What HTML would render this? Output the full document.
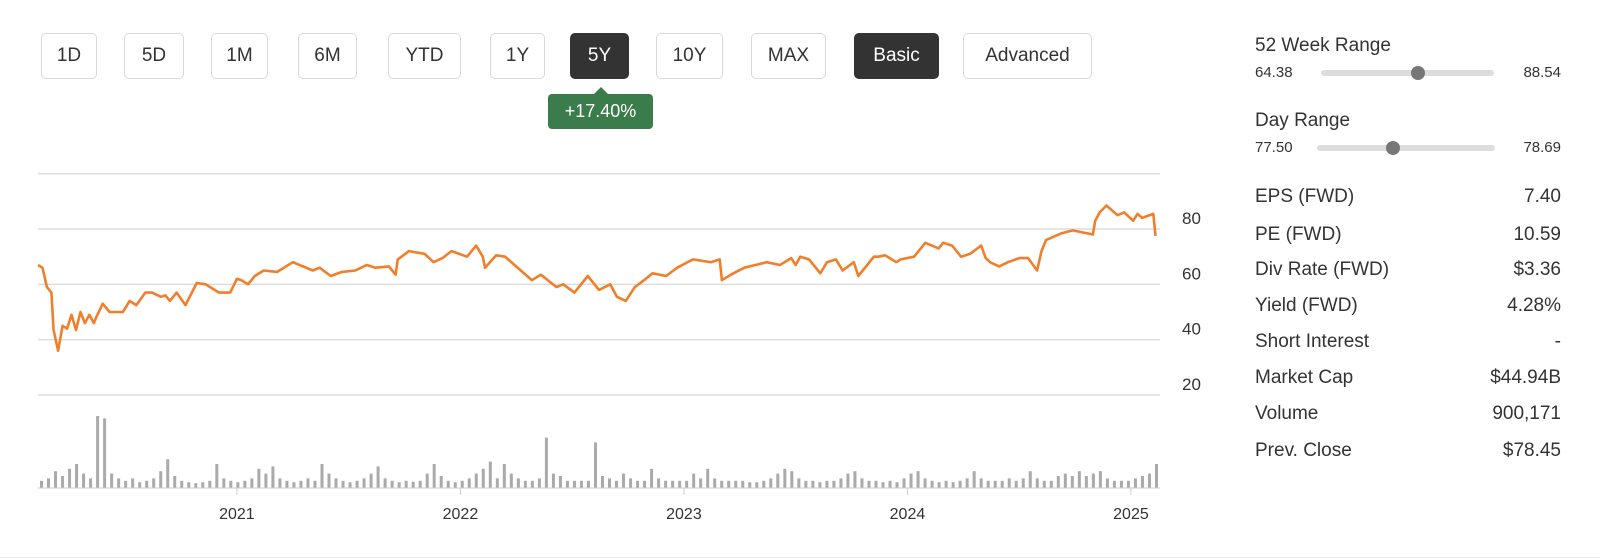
<!DOCTYPE html>
<html><head><meta charset="utf-8">
<style>
body{margin:0;width:1600px;height:559px;overflow:hidden;background:#fff;font-family:"Liberation Sans",Arial,sans-serif;color:#333;position:relative}
.btn{position:absolute;top:33px;height:46px;border:1px solid #d8d8d8;border-radius:5px;box-sizing:border-box;font-size:19px;line-height:44px;text-align:center;color:#333;background:#fff}
.btn.on{background:#333;color:#fff;border-color:#333}
.badge{position:absolute;left:548px;top:94px;width:105px;height:35px;background:#3a7d4a;color:#fff;border-radius:4px;font-size:18px;line-height:35px;text-align:center}
.badge:before{content:"";position:absolute;left:46px;top:-7px;border-left:7px solid transparent;border-right:7px solid transparent;border-bottom:7px solid #3a7d4a}
.t{position:absolute;white-space:nowrap}
.lbl{font-size:19px}
.sm{font-size:15px}
.bar{position:absolute;height:6px;background:#ddd;border-radius:3px}
.dot{position:absolute;width:14px;height:14px;border-radius:50%;background:#777}
.row{position:absolute;left:1255px;width:306px;font-size:19px;display:flex;justify-content:space-between}
</style></head><body>
<div class="btn" style="left:41px;width:56px">1D</div>
<div class="btn" style="left:124px;width:60px">5D</div>
<div class="btn" style="left:211px;width:57px">1M</div>
<div class="btn" style="left:298px;width:59px">6M</div>
<div class="btn" style="left:388px;width:73px">YTD</div>
<div class="btn" style="left:490px;width:55px">1Y</div>
<div class="btn on" style="left:570px;width:59px">5Y</div>
<div class="btn" style="left:656px;width:67px">10Y</div>
<div class="btn" style="left:751px;width:75px">MAX</div>
<div class="btn on" style="left:854px;width:85px">Basic</div>
<div class="btn" style="left:963px;width:129px">Advanced</div>
<div class="badge">+17.40%</div>

<svg id="chart" width="1240" height="559" style="position:absolute;left:0;top:0"></svg>

<div class="t lbl" style="left:1255px;top:35px">52 Week Range</div>
<div class="t sm" style="left:1255px;top:64px">64.38</div>
<div class="bar" style="left:1321px;top:70px;width:173px"></div>
<div class="dot" style="left:1411px;top:66px"></div>
<div class="t sm" style="right:39px;top:64px">88.54</div>
<div class="t lbl" style="left:1255px;top:110px">Day Range</div>
<div class="t sm" style="left:1255px;top:139px">77.50</div>
<div class="bar" style="left:1317px;top:145px;width:178px"></div>
<div class="dot" style="left:1386px;top:141px"></div>
<div class="t sm" style="right:39px;top:139px">78.69</div>

<div class="row" style="top:186px"><span>EPS (FWD)</span><span>7.40</span></div>
<div class="row" style="top:224px"><span>PE (FWD)</span><span>10.59</span></div>
<div class="row" style="top:259px"><span>Div Rate (FWD)</span><span>$3.36</span></div>
<div class="row" style="top:295px"><span>Yield (FWD)</span><span>4.28%</span></div>
<div class="row" style="top:331px"><span>Short Interest</span><span>-</span></div>
<div class="row" style="top:367px"><span>Market Cap</span><span>$44.94B</span></div>
<div class="row" style="top:403px"><span>Volume</span><span>900,171</span></div>
<div class="row" style="top:440px"><span>Prev. Close</span><span>$78.45</span></div>
<div style="position:absolute;left:0;top:557px;width:1600px;height:1px;background:#eee"></div>

<script>
const priceDates=[2020.11,2020.13,2020.15,2020.17,2020.18,2020.20,2020.22,2020.24,2020.26,2020.28,2020.30,2020.32,2020.34,2020.36,2020.37,2020.40,2020.43,2020.45,2020.49,2020.52,2020.55,2020.59,2020.62,2020.66,2020.68,2020.70,2020.73,2020.77,2020.82,2020.86,2020.90,2020.92,2020.97,2021.00,2021.02,2021.05,2021.08,2021.12,2021.18,2021.25,2021.34,2021.37,2021.42,2021.47,2021.53,2021.58,2021.62,2021.68,2021.71,2021.72,2021.77,2021.84,2021.88,2021.92,2021.96,2022.03,2022.07,2022.10,2022.11,2022.16,2022.20,2022.27,2022.32,2022.36,2022.43,2022.46,2022.51,2022.54,2022.57,2022.62,2022.67,2022.70,2022.74,2022.78,2022.83,2022.86,2022.92,2022.97,2023.04,2023.12,2023.16,2023.17,2023.21,2023.27,2023.32,2023.37,2023.43,2023.48,2023.50,2023.52,2023.56,2023.61,2023.64,2023.68,2023.71,2023.76,2023.78,2023.81,2023.85,2023.87,2023.90,2023.95,2023.97,2024.03,2024.08,2024.14,2024.16,2024.20,2024.24,2024.28,2024.33,2024.35,2024.37,2024.41,2024.45,2024.50,2024.54,2024.58,2024.60,2024.62,2024.69,2024.74,2024.83,2024.84,2024.86,2024.89,2024.94,2024.97,2025.01,2025.03,2025.05,2025.10,2025.11,2025.12];
const priceValues=[67,66,59,57,43.5,36,45,44,49,43.5,50,46,49,46,48,53,50,50,50,54,52.5,57,57,55.5,56,54,57,52.5,60.5,60,58,57,57,62,61.5,60,63,65,64.5,68,65,66,63,64.5,65,67,66,66.5,63.5,69,72,71,68,69.5,72,70,74,70,66,70.5,70,65,61.5,63.5,59,60,57,60,63,58,60,55.5,54,59,62,64,63,66,69,68,69,61.5,63.5,66,67,68,67,69.5,67,70,69,64,68,69,65,68,63,66,70,70,70.5,68,69,70,75,73,75,74,70,71,74,69.5,68,66.5,68,69.5,69.5,65,72,76,78.5,79.5,78,83,86,88.5,85,86,83,85.5,84,85.5,77.5];
const volumeValues=[1.5,2,3.5,2.5,4,5,3,2,15,14.5,3,2,1.5,2,1.2,1.5,2,3.5,6,2.5,1.5,1.2,1,1.2,1.5,5,2,1.5,1.2,1.5,2,4,3,4.5,2,1.5,1.2,1.5,2,1.5,5,3,2,1.5,1.2,1.5,2,3,4.5,2,1.5,1.2,1.5,1.3,1.5,3,5,2.5,1.5,1.2,1.5,2,3,4,5.5,2,5,3,2,1.5,1.5,2,10.5,3,2.5,1.5,1.5,1.5,1.5,9.5,2.5,2,1.5,3,2,1.5,1.5,4,2,1.5,1.5,1.5,1.5,3,2,4,2,1.5,1.5,1.5,1.5,1.2,1.2,1.5,2,3,4,3.5,2,1.5,1.5,1.2,1.5,1.5,2,3,3.5,2,1.5,1.5,1.2,1.5,1.2,2,3,3.5,2,1.5,1.2,1.5,1.2,1.5,2,3.5,2,1.5,1.5,1.5,2,1.5,2,3.5,2,1.5,1.5,2.5,3,2.5,3.5,2.5,3,3.5,2,1.5,1.5,1.5,2,2.5,3,5];
const yTicks=[80,60,40,20];
const yearTicks=[2021,2022,2023,2024,2025];

const svg=document.getElementById('chart');
const NS='http://www.w3.org/2000/svg';
const X0=38,X1=1160,T0=2020.11,T1=2025.13;
const xs=t=>X0+(t-T0)/(T1-T0)*(X1-X0);
const ys=v=>229+(80-v)*2.767;
const VB=488,VK=4.8;
const vy=v=>VB-v*VK;
function mk(tag,attrs){const e=document.createElementNS(NS,tag);for(const k in attrs)e.setAttribute(k,attrs[k]);svg.appendChild(e);return e;}

let g=mk('line',{x1:X0,x2:X1,y1:ys(100),y2:ys(100),stroke:'#ddd','stroke-width':1.5});


yTicks.forEach(v=>{
  const l=mk('line',{x1:X0,x2:X1,y1:ys(v),y2:ys(v),stroke:'#ddd','stroke-width':1.5});
  
  
  const t=mk('text',{x:1182,y:ys(v)-5,'font-size':17,fill:'#333','font-family':'Liberation Sans, sans-serif'});
  t.textContent=v;
  
  
});

const slot=(X1-X0)/volumeValues.length;
volumeValues.forEach((v,i)=>{
  const r=mk('rect',{x:X0+i*slot+2,y:vy(v),width:3,height:v*VK,fill:'#aaa'});
  
  
});
let base=mk('line',{x1:X0,x2:X1,y1:VB,y2:VB,stroke:'#ccc','stroke-width':1});



const d=priceDates.map((t,i)=>(i?'L':'M')+xs(t).toFixed(1)+','+ys(priceValues[i]).toFixed(1)).join(' ');
const p=mk('path',{d:d,fill:'none',stroke:'#f07f2c','stroke-width':2.6,'stroke-linejoin':'round'});



yearTicks.forEach(y=>{
  const x=xs(y);
  const tk=mk('line',{x1:x,x2:x,y1:VB,y2:VB+7,stroke:'#ccc','stroke-width':1});
  
  
  const t=mk('text',{x:x,y:519,'font-size':16,fill:'#333','text-anchor':'middle','font-family':'Liberation Sans, sans-serif'});
  t.textContent=y;
  
  
});
</script>
</body></html>
